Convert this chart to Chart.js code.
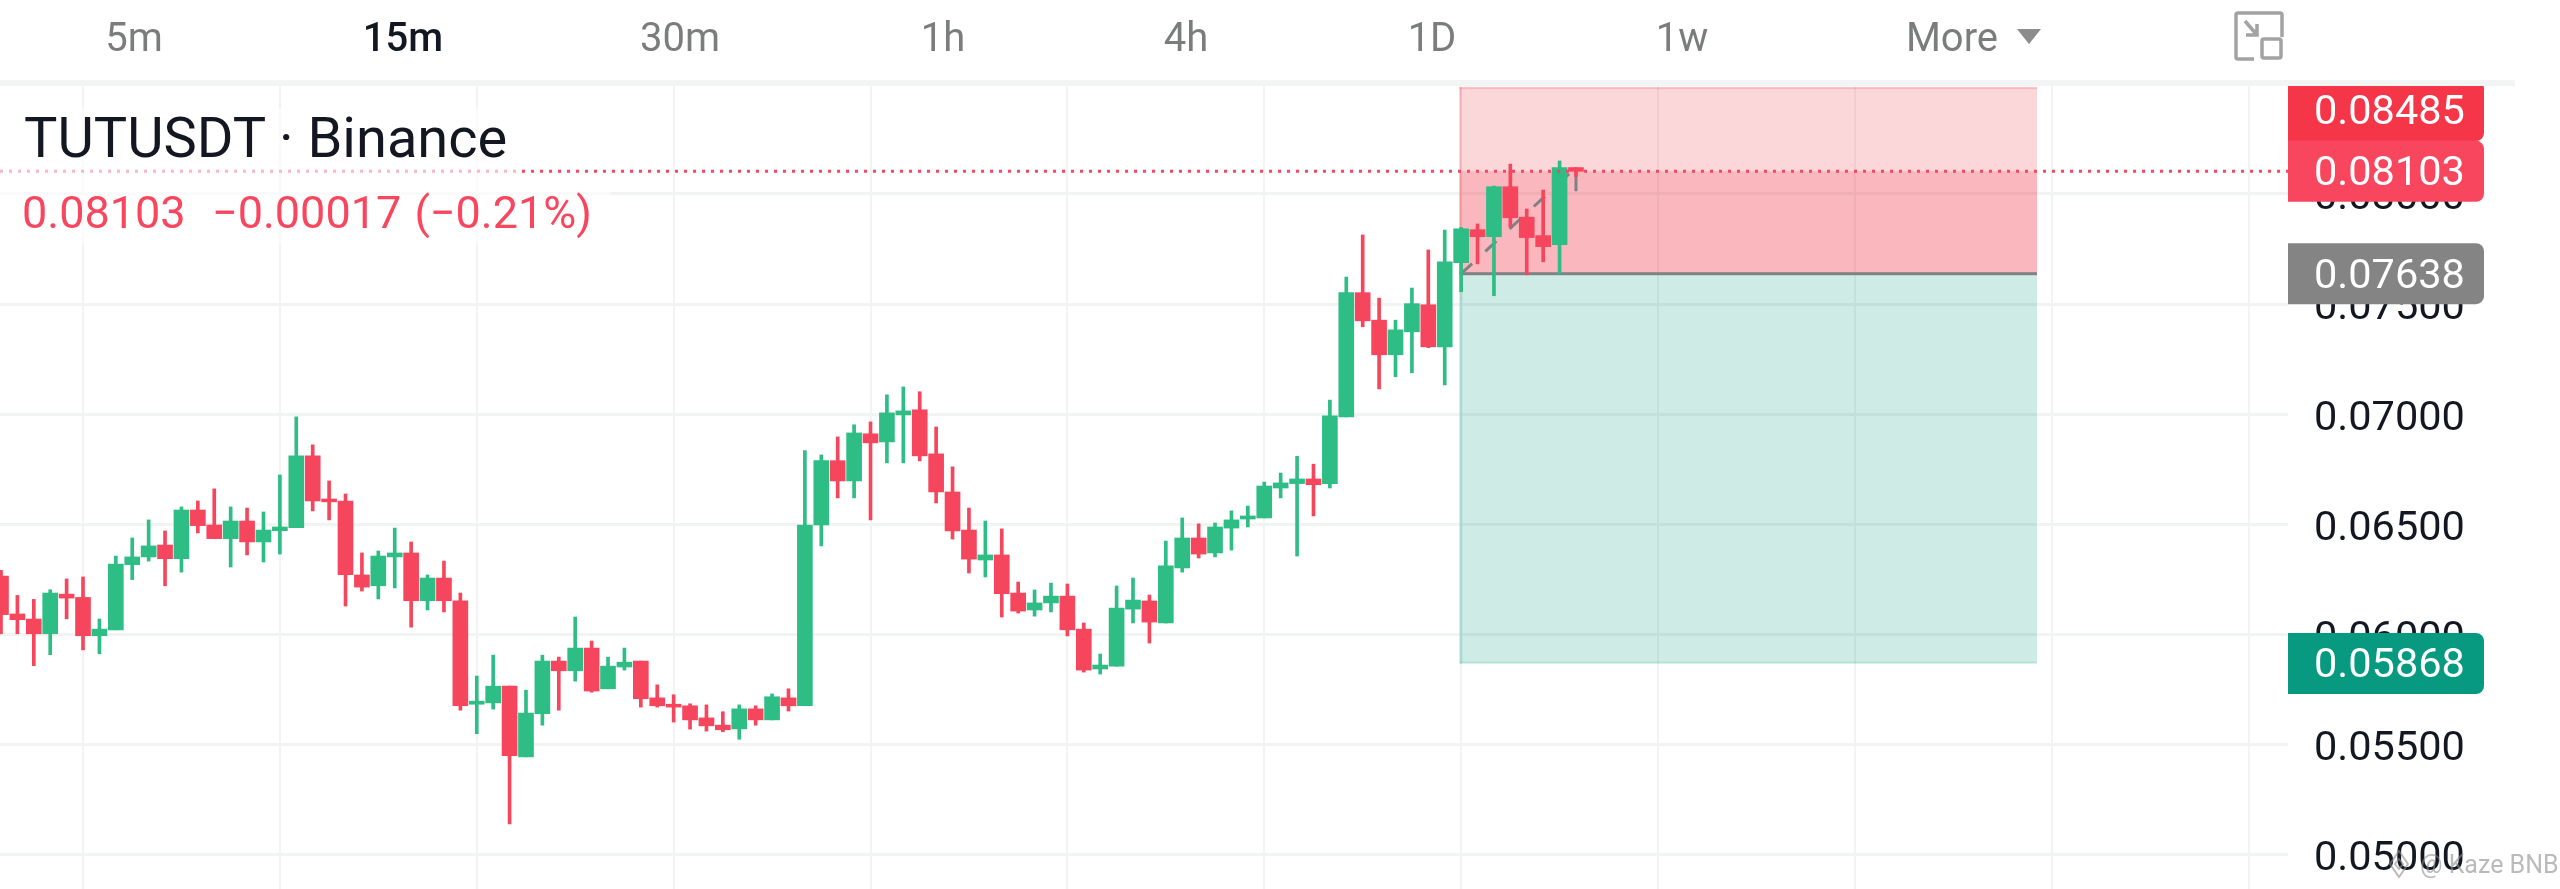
<!DOCTYPE html>
<html>
<head>
<meta charset="utf-8">
<title>TUTUSDT</title>
<script src="https://cdn.jsdelivr.net/npm/chart.js@4/dist/chart.umd.min.js"></script>
<style>
  html, body { margin: 0; padding: 0; background: #fff; overflow: hidden; }
  body { width: 2560px; height: 889px; position: relative; font-family: Roboto, sans-serif; }
  canvas { position: absolute; left: 0; top: 0; }
  .tab { position: absolute; top: 16px; line-height: 44px; font-size: 40px; color: #7b7d7d; transform: translateX(-50%); white-space: nowrap; }
  .tab.active { color: #131722; font-weight: 500; }
  #topBand { position: absolute; left: 0; top: 80px; width: 2515px; height: 6px; background: #f3f4f4; }
  #title { position: absolute; left: 0; top: 108px; width: 498px; height: 66px; padding-left: 24px; font-size: 56px; line-height: 60px; color: #131722; background: rgba(255,255,255,.6); white-space: nowrap; }
  #legend { position: absolute; left: 0; top: 175px; width: 588px; height: 57px; padding-left: 22px; padding-top: 13px; font-size: 45px; word-spacing: 2px; line-height: 50px; color: #f9465f; background: rgba(255,255,255,.6); white-space: pre; }
  #mark { position: absolute; left: 2420px; top: 850px; font-size: 25px; line-height: 30px; color: rgba(140,140,140,.6); white-space: nowrap; }
  svg { position: absolute; }
</style>
</head>
<body>
<canvas id="myChart" width="2560" height="889"></canvas>
<div id="topBand"></div>
<div id="tabs"></div>
<svg style="left:2017px;top:29px" width="24" height="15"><path d="M0 0H24L12 15Z" fill="#8c8c8c"/></svg>
<svg style="left:2234px;top:11px" width="50" height="50" fill="none" stroke="#a3a3a3" stroke-width="3.5">
  <path d="M2 30V4a2 2 0 0 1 2-2H46a2 2 0 0 1 2 2V26"/>
  <path d="M2 30V46a2 2 0 0 0 2 2H20"/>
  <rect x="28" y="28" width="19" height="19" rx="2"/>
  <path d="M11 10L23 24M23 13V24H12"/>
</svg>
<div id="title">TUTUSDT · Binance</div>
<div id="legend">0.08103  −0.00017 (−0.21%)</div>
<svg style="left:2389px;top:850px" width="20" height="28" fill="none" stroke="rgba(140,140,140,.6)" stroke-width="2"><path d="M10 1L19 14L10 27L1 14Z"/><path d="M10 9L14 14L10 19L6 14Z"/></svg>
<div id="mark">@ Kaze BNB</div>

<script>
var tabNames = ["5m", "15m", "30m", "1h", "4h", "1D", "1w", "More"];
var tabCenters = [134, 403, 680, 943, 1186, 1432, 1682, 1952];

// 15m candles, first one is index -5
var firstIndex = -5;
var opens = [
  0.06265, 0.06093, 0.06070, 0.06003, 0.06183, 0.06168, 0.05994, 0.06021, 0.06317, 0.06352,
  0.06406, 0.06344, 0.06565, 0.06497, 0.06435, 0.06515, 0.06420, 0.06471, 0.06485, 0.06811,
  0.06615, 0.06606, 0.06270, 0.06221, 0.06352, 0.06370, 0.06153, 0.06256, 0.06152, 0.05683,
  0.05689, 0.05765, 0.05444, 0.05640, 0.05879, 0.05835, 0.05938, 0.05753, 0.05852, 0.05879,
  0.05712, 0.05683, 0.05676, 0.05621, 0.05588, 0.05571, 0.05662, 0.05612, 0.05712, 0.05676,
  0.06497, 0.06789, 0.06697, 0.06911, 0.06874, 0.06997, 0.07020, 0.06820, 0.06647, 0.06474,
  0.06338, 0.06361, 0.06188, 0.06111, 0.06143, 0.06174, 0.06024, 0.05843, 0.05856, 0.06115,
  0.06152, 0.06052, 0.06302, 0.06438, 0.06370, 0.06483, 0.06524, 0.06529, 0.06665, 0.06685,
  0.06706, 0.06685, 0.06988, 0.07552, 0.07427, 0.07270, 0.07374, 0.07497, 0.07306, 0.07688,
  0.07838, 0.07806, 0.08033, 0.07895, 0.07811, 0.07770, 0.08120
];
var closes = [
  0.06090, 0.06067, 0.06003, 0.06188, 0.06165, 0.05994, 0.06024, 0.06320, 0.06352, 0.06402,
  0.06344, 0.06565, 0.06494, 0.06435, 0.06515, 0.06420, 0.06474, 0.06488, 0.06811, 0.06606,
  0.06602, 0.06271, 0.06215, 0.06356, 0.06370, 0.06153, 0.06256, 0.06153, 0.05676, 0.05697,
  0.05765, 0.05449, 0.05643, 0.05879, 0.05835, 0.05938, 0.05743, 0.05856, 0.05874, 0.05708,
  0.05676, 0.05670, 0.05612, 0.05585, 0.05567, 0.05662, 0.05612, 0.05717, 0.05676, 0.06497,
  0.06789, 0.06697, 0.06915, 0.06870, 0.07006, 0.07015, 0.06811, 0.06647, 0.06470, 0.06342,
  0.06361, 0.06185, 0.06106, 0.06143, 0.06174, 0.06021, 0.05838, 0.05861, 0.06120, 0.06156,
  0.06056, 0.06311, 0.06438, 0.06365, 0.06488, 0.06520, 0.06538, 0.06674, 0.06688, 0.06706,
  0.06680, 0.06993, 0.07552, 0.07424, 0.07270, 0.07383, 0.07502, 0.07306, 0.07692, 0.07842,
  0.07806, 0.08033, 0.07892, 0.07802, 0.07761, 0.08120, 0.08103
];
var highs = [
  0.06291, 0.06177, 0.06159, 0.06203, 0.06252, 0.06261, 0.06070, 0.06356, 0.06438, 0.06520,
  0.06470, 0.06579, 0.06606, 0.06661, 0.06579, 0.06574, 0.06556, 0.06724, 0.06988, 0.06861,
  0.06697, 0.06638, 0.06370, 0.06379, 0.06483, 0.06420, 0.06270, 0.06333, 0.06188, 0.05811,
  0.05906, 0.05765, 0.05747, 0.05906, 0.05897, 0.06079, 0.05970, 0.05897, 0.05938, 0.05879,
  0.05771, 0.05726, 0.05685, 0.05680, 0.05649, 0.05680, 0.05676, 0.05730, 0.05753, 0.06835,
  0.06815, 0.06897, 0.06952, 0.06965, 0.07088, 0.07124, 0.07102, 0.06942, 0.06761, 0.06574,
  0.06515, 0.06479, 0.06238, 0.06202, 0.06233, 0.06229, 0.06052, 0.05911, 0.06220, 0.06256,
  0.06179, 0.06424, 0.06529, 0.06502, 0.06506, 0.06561, 0.06583, 0.06692, 0.06733, 0.06809,
  0.06773, 0.07064, 0.07623, 0.07814, 0.07527, 0.07427, 0.07573, 0.07746, 0.07836, 0.07848,
  0.07864, 0.08036, 0.08136, 0.07932, 0.08018, 0.08150, 0.08120
];
var lows = [
  0.06003, 0.06003, 0.05858, 0.05908, 0.06071, 0.05930, 0.05912, 0.06021, 0.06249, 0.06333,
  0.06221, 0.06283, 0.06461, 0.06435, 0.06306, 0.06361, 0.06329, 0.06365, 0.06485, 0.06561,
  0.06520, 0.06129, 0.06197, 0.06161, 0.06211, 0.06033, 0.06111, 0.06102, 0.05656, 0.05549,
  0.05661, 0.05140, 0.05444, 0.05588, 0.05656, 0.05788, 0.05738, 0.05753, 0.05838, 0.05670,
  0.05670, 0.05602, 0.05570, 0.05561, 0.05558, 0.05524, 0.05588, 0.05612, 0.05652, 0.05676,
  0.06402, 0.06620, 0.06620, 0.06520, 0.06779, 0.06779, 0.06788, 0.06597, 0.06433, 0.06279,
  0.06261, 0.06079, 0.06097, 0.06083, 0.06102, 0.05993, 0.05829, 0.05820, 0.05856, 0.06052,
  0.05961, 0.06052, 0.06283, 0.06347, 0.06352, 0.06383, 0.06488, 0.06529, 0.06620, 0.06356,
  0.06538, 0.06665, 0.06988, 0.07397, 0.07115, 0.07170, 0.07188, 0.07302, 0.07133, 0.07556,
  0.07683, 0.07538, 0.07851, 0.07633, 0.07692, 0.07638, 0.08079
];

var yTickValues = [0.05, 0.055, 0.06, 0.065, 0.07, 0.075, 0.08];
var xGridIndexes = [0, 12, 24, 36, 48, 60, 72, 84, 96, 108, 120, 132];

var lastPrice = 0.08103;
var targetPrice = 0.08485;
var entryPrice = 0.07638;
var stopPrice = 0.05868;
var zoneStart = 83.9;
var zoneEnd = 119.1;
var tradePathX = [84, 91, 91];
var tradePathY = [0.07638, 0.0812, 0.07995];

var greenColor = "#2ebd85";
var redColor = "#f6465d";

var tagList = [
  { value: targetPrice, color: "#f43648" },
  { value: lastPrice, color: "#f9465f" },
  { value: entryPrice, color: "#848484" },
  { value: stopPrice, color: "#089981" },
];

tabNames.forEach(function (name, i) {
  var el = document.createElement("div");
  el.className = "tab" + (name === "15m" ? " active" : "");
  el.style.left = tabCenters[i] + "px";
  el.textContent = name;
  document.getElementById("tabs").appendChild(el);
});

var bodies = [];
var wicks = [];
var candleColors = [];
opens.forEach(function (o, i) {
  var x = firstIndex + i;
  bodies.push({ x: x, y: [o, closes[i]] });
  wicks.push({ x: x, y: [lows[i], highs[i]] });
  candleColors.push(closes[i] >= o ? greenColor : redColor);
});

var xMin = -5.06;
var xMax = 134.4;

var tradePath = tradePathX.map(function (x, i) {
  return { x: x, y: tradePathY[i] };
});

// position tool behind the candles
var zonePlugin = {
  id: "zones",
  beforeDatasetsDraw: function (chart) {
    var ctx = chart.ctx;
    var xs = chart.scales.x;
    var ys = chart.scales.y;
    var left = xs.getPixelForValue(zoneStart);
    var right = xs.getPixelForValue(zoneEnd);
    var w = right - left;
    var top = ys.getPixelForValue(targetPrice);
    var mid = ys.getPixelForValue(entryPrice);
    var last = ys.getPixelForValue(lastPrice);
    var bottom = ys.getPixelForValue(stopPrice);
    ctx.save();
    ctx.fillStyle = "rgba(242,54,69,0.2)";
    ctx.fillRect(left, top, w, mid - top);
    ctx.fillRect(left, last, w, mid - last);
    ctx.fillStyle = "rgba(8,153,129,0.2)";
    ctx.fillRect(left, mid, w, bottom - mid);
    ctx.fillStyle = "rgba(242,54,69,0.2)";
    ctx.fillRect(left, top, w, 2);
    ctx.fillRect(left, top, 2, mid - top);
    ctx.fillStyle = "rgba(8,153,129,0.12)";
    ctx.fillRect(left, bottom - 2, w, 2);
    ctx.fillRect(left, mid, 3, bottom - mid);
    ctx.fillStyle = "#7f8284";
    ctx.fillRect(left, mid - 1.5, w, 3);
    ctx.restore();
  },
};

// price tags sit on top of the axis labels
var tagPlugin = {
  id: "tags",
  afterDraw: function (chart) {
    var ctx = chart.ctx;
    var ys = chart.scales.y;
    ctx.save();
    ctx.font = "41.5px Roboto";
    ctx.textBaseline = "middle";
    ctx.textAlign = "left";
    tagList.forEach(function (tag) {
      var top = Math.max(ys.getPixelForValue(tag.value) - 30.5, 80);
      ctx.fillStyle = tag.color;
      ctx.beginPath();
      ctx.roundRect(2288, top, 196, 61, [0, 8, 8, 0]);
      ctx.fill();
      ctx.fillStyle = "#fff";
      ctx.fillText(tag.value.toFixed(5), 2314, top + 34);
    });
    ctx.fillStyle = "rgba(255,255,255,0.15)";
    ctx.fillRect(2288, 80, 190, 5);
    ctx.restore();
  },
};

var chart = new Chart(document.getElementById("myChart").getContext("2d"), {
  data: {
    datasets: [
      {
        type: "line",
        label: "Last price",
        data: [{ x: xMin, y: lastPrice }, { x: xMax, y: lastPrice }],
        borderColor: "#f9465f",
        borderWidth: 3,
        borderDash: [3, 6],
        pointRadius: 0,
        order: 1,
      },
      {
        type: "bar",
        label: "Body",
        data: bodies,
        backgroundColor: candleColors,
        borderWidth: 0,
        borderSkipped: false,
        barThickness: 15,
        grouped: false,
        order: 2,
      },
      {
        type: "bar",
        label: "Wick",
        data: wicks,
        backgroundColor: candleColors,
        borderWidth: 0,
        borderSkipped: false,
        barThickness: 3,
        grouped: false,
        order: 3,
      },
      {
        type: "line",
        label: "Trade",
        data: tradePath,
        borderColor: "#7f8284",
        borderWidth: 3,
        borderDash: [15, 18],
        pointRadius: 0,
        tension: 0,
        order: 4,
      },
    ],
  },
  options: {
    responsive: false,
    animation: false,
    layout: { padding: { top: 83, left: 0, right: 0, bottom: 0 } },
    plugins: { legend: { display: false }, tooltip: { enabled: false } },
    scales: {
      x: {
        type: "linear",
        offset: false,
        min: xMin,
        max: xMax,
        afterBuildTicks: function (axis) {
          axis.ticks = xGridIndexes.map(function (v) {
            return { value: v };
          });
        },
        afterFit: function (axis) {
          axis.height = 0;
          axis.paddingLeft = 0;
          axis.paddingRight = 0;
        },
        border: { display: false },
        grid: { color: "#f2f3f3", lineWidth: 2, drawTicks: false, offset: false },
        ticks: { display: false, autoSkip: false },
      },
      y: {
        type: "linear",
        position: "right",
        min: 0.04844,
        max: 0.08504,
        afterBuildTicks: function (axis) {
          axis.ticks = yTickValues.map(function (v) {
            return { value: v };
          });
        },
        afterFit: function (axis) {
          axis.width = 272;
          axis.paddingTop = 0;
          axis.paddingBottom = 0;
        },
        border: { display: false },
        grid: { color: "#f2f3f3", lineWidth: 3, drawTicks: false },
        ticks: {
          padding: 26,
          labelOffset: 5,
          autoSkip: false,
          color: "#131722",
          font: { family: "Roboto", size: 41.5 },
          callback: function (v) {
            return v.toFixed(5);
          },
        },
      },
    },
  },
  plugins: [zonePlugin, tagPlugin],
});
</script>
</body>
</html>
